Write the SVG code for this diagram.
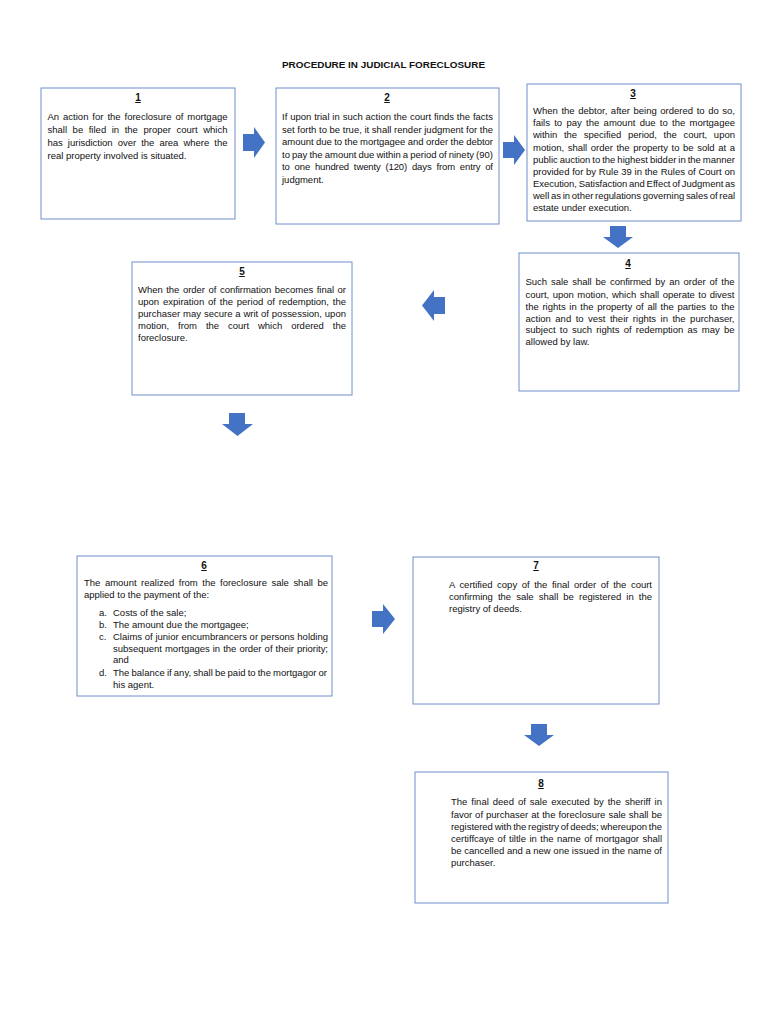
<svg xmlns="http://www.w3.org/2000/svg" width="768" height="1024" viewBox="0 0 768 1024">
<style>
.box{fill:#ffffff;stroke:#6f8fcb;stroke-width:1}
.t{font-family:"Liberation Sans",Arial,sans-serif;font-size:9.5px;fill:#111111}
.num{font-family:"Liberation Sans",Arial,sans-serif;font-size:10px;font-weight:bold;fill:#111111;text-anchor:middle;text-decoration:underline}
.title{font-family:"Liberation Sans",Arial,sans-serif;font-size:9.5px;font-weight:bold;fill:#111111}
.arr{fill:#4472c4}
</style>
<rect width="768" height="1024" fill="#ffffff"/>
<text class="title" x="282" y="68" textLength="203" lengthAdjust="spacingAndGlyphs">PROCEDURE IN JUDICIAL FORECLOSURE</text>

<g id="node1">
<rect class="box" x="41" y="88" width="194" height="131"/>
<text class="num" x="138" y="101">1</text>
<text class="t" x="47.5" y="120" word-spacing="1.3" textLength="180" lengthAdjust="spacing">An action for the foreclosure of mortgage</text>
<text class="t" x="47.5" y="133" word-spacing="2.9" textLength="180" lengthAdjust="spacing">shall be filed in the proper court which</text>
<text class="t" x="47.5" y="146" word-spacing="2.4" textLength="180" lengthAdjust="spacing">has jurisdiction over the area where the</text>
<text class="t" x="47.5" y="159">real property involved is situated.</text>
</g>

<g id="node2">
<rect class="box" x="276" y="88" width="223" height="136"/>
<text class="num" x="387" y="101">2</text>
<text class="t" x="282" y="120" word-spacing="0.2" textLength="211" lengthAdjust="spacing">If upon trial in such action the court finds the facts</text>
<text class="t" x="282" y="132.5" textLength="211" lengthAdjust="spacing">set forth to be true, it shall render judgment for the</text>
<text class="t" x="282" y="145" word-spacing="-0.2" textLength="211" lengthAdjust="spacing">amount due to the mortgagee and order the debtor</text>
<text class="t" x="282" y="157.5" word-spacing="-0.55" textLength="211" lengthAdjust="spacing">to pay the amount due within a period of ninety (90)</text>
<text class="t" x="282" y="170" word-spacing="2.35" textLength="211" lengthAdjust="spacing">to one hundred twenty (120) days from entry of</text>
<text class="t" x="282" y="182.5">judgment.</text>
</g>

<g id="node3">
<rect class="box" x="527" y="84" width="214" height="137"/>
<text class="num" x="633" y="97">3</text>
<text class="t" x="533" y="114" word-spacing="0.9" textLength="202" lengthAdjust="spacing">When the debtor, after being ordered to do so,</text>
<text class="t" x="533" y="126" word-spacing="1.7" textLength="202" lengthAdjust="spacing">fails to pay the amount due to the mortgagee</text>
<text class="t" x="533" y="138" word-spacing="4" textLength="202" lengthAdjust="spacing">within the specified period, the court, upon</text>
<text class="t" x="533" y="151" word-spacing="1" textLength="202" lengthAdjust="spacing">motion, shall order the property to be sold at a</text>
<text class="t" x="533" y="163" word-spacing="-0.7" textLength="202" lengthAdjust="spacing">public auction to the highest bidder in the manner</text>
<text class="t" x="533" y="175" word-spacing="0.14" textLength="202" lengthAdjust="spacing">provided for by Rule 39 in the Rules of Court on</text>
<text class="t" x="533" y="187" word-spacing="-0.8" textLength="202" lengthAdjust="spacing">Execution, Satisfaction and Effect of Judgment as</text>
<text class="t" x="533" y="199" word-spacing="-0.8" textLength="202" lengthAdjust="spacing">well as in other regulations governing sales of real</text>
<text class="t" x="533" y="211">estate under execution.</text>
</g>

<g id="node4">
<rect class="box" x="519" y="253" width="220" height="138"/>
<text class="num" x="628" y="267">4</text>
<text class="t" x="525.5" y="285" word-spacing="1.3" textLength="209" lengthAdjust="spacing">Such sale shall be confirmed by an order of the</text>
<text class="t" x="525.5" y="298" word-spacing="0.8" textLength="209" lengthAdjust="spacing">court, upon motion, which shall operate to divest</text>
<text class="t" x="525.5" y="310" word-spacing="1" textLength="209" lengthAdjust="spacing">the rights in the property of all the parties to the</text>
<text class="t" x="525.5" y="322" word-spacing="1.8" textLength="209" lengthAdjust="spacing">action and to vest their rights in the purchaser,</text>
<text class="t" x="525.5" y="333" word-spacing="1.6" textLength="209" lengthAdjust="spacing">subject to such rights of redemption as may be</text>
<text class="t" x="525.5" y="345">allowed by law.</text>
</g>

<g id="node5">
<rect class="box" x="132" y="262" width="220" height="133"/>
<text class="num" x="242" y="275">5</text>
<text class="t" x="138" y="293" word-spacing="1" textLength="208" lengthAdjust="spacing">When the order of confirmation becomes final or</text>
<text class="t" x="138" y="305" word-spacing="1.2" textLength="208" lengthAdjust="spacing">upon expiration of the period of redemption, the</text>
<text class="t" x="138" y="317" word-spacing="0.2" textLength="208" lengthAdjust="spacing">purchaser may secure a writ of possession, upon</text>
<text class="t" x="138" y="329" word-spacing="6.25" textLength="208" lengthAdjust="spacing">motion, from the court which ordered the</text>
<text class="t" x="138" y="341">foreclosure.</text>
</g>

<g id="node6">
<rect class="box" x="77" y="556" width="255" height="140"/>
<text class="num" x="204" y="569">6</text>
<text class="t" x="84" y="586" word-spacing="1.9" textLength="244" lengthAdjust="spacing">The amount realized from the foreclosure sale shall be</text>
<text class="t" x="84" y="598">applied to the payment of the:</text>
<text class="t" x="99" y="616">a.</text>
<text class="t" x="113" y="616">Costs of the sale;</text>
<text class="t" x="99" y="628">b.</text>
<text class="t" x="113" y="628">The amount due the mortgagee;</text>
<text class="t" x="99" y="640">c.</text>
<text class="t" x="113" y="640" word-spacing="0.1" textLength="215" lengthAdjust="spacing">Claims of junior encumbrancers or persons holding</text>
<text class="t" x="113" y="652" word-spacing="0.5" textLength="215" lengthAdjust="spacing">subsequent mortgages in the order of their priority;</text>
<text class="t" x="113" y="663">and</text>
<text class="t" x="99" y="676">d.</text>
<text class="t" x="113" y="676" word-spacing="-0.57" textLength="214" lengthAdjust="spacing">The balance if any, shall be paid to the mortgagor or</text>
<text class="t" x="113" y="688">his agent.</text>
</g>

<g id="node7">
<rect class="box" x="413" y="557" width="246" height="147"/>
<text class="num" x="536" y="569">7</text>
<text class="t" x="449" y="588" word-spacing="2" textLength="203" lengthAdjust="spacing">A certified copy of the final order of the court</text>
<text class="t" x="449" y="600" word-spacing="2.4" textLength="203" lengthAdjust="spacing">confirming the sale shall be registered in the</text>
<text class="t" x="449" y="612">registry of deeds.</text>
</g>

<g id="node8">
<rect class="box" x="415" y="772" width="253" height="131"/>
<text class="num" x="541" y="787">8</text>
<text class="t" x="451" y="805" word-spacing="1.3" textLength="211" lengthAdjust="spacing">The final deed of sale executed by the sheriff in</text>
<text class="t" x="451" y="818" word-spacing="0.4" textLength="211" lengthAdjust="spacing">favor of purchaser at the foreclosure sale shall be</text>
<text class="t" x="451" y="830" word-spacing="-0.8" textLength="211" lengthAdjust="spacing">registered with the registry of deeds; whereupon the</text>
<text class="t" x="451" y="842" word-spacing="0.8" textLength="211" lengthAdjust="spacing">certiffcaye of tiltle in the name of mortgagor shall</text>
<text class="t" x="451" y="854" textLength="211" lengthAdjust="spacing">be cancelled and a new one issued in the name of</text>
<text class="t" x="451" y="866">purchaser.</text>
</g>

<g id="connectors">
<path class="arr" d="M243,134 H254 V127 L265,142.5 L254,158 V151 H243 Z"/>
<path class="arr" d="M503,142 H514 V135 L525,150 L514,165 V158 H503 Z"/>
<path class="arr" d="M610,226 H626 V237 H633 L618,248 L603,237 H610 Z"/>
<path class="arr" d="M445,297 H434 V290 L422,305.5 L434,321 V314 H445 Z"/>
<path class="arr" d="M229,413 H245 V424 H253 L237.5,436 L222,424 H229 Z"/>
<path class="arr" d="M372,611 H383 V604 L395,619 L383,634 V627 H372 Z"/>
<path class="arr" d="M531,724 H547 V735 H554 L539,746 L524,735 H531 Z"/>
</g>
</svg>
